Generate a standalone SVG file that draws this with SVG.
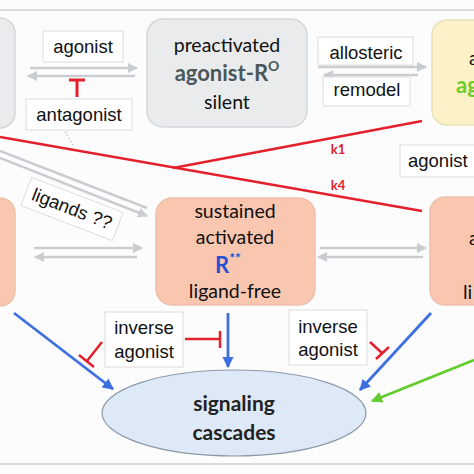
<svg xmlns="http://www.w3.org/2000/svg" width="474" height="474" viewBox="0 0 474 474">
<defs>
<style>
.gnode{fill:#e9ebec;stroke:#d3d7d9;stroke-width:1.5}
.snode{fill:#f9c6b0;stroke:#eec0ac;stroke-width:1.5}
.ynode{fill:#fcf2c8;stroke:#e8e0b8;stroke-width:1.5}
.lbl{fill:#ffffff;stroke:#dcdcdc;stroke-width:1}
.lt{font-family:"Liberation Sans",Arial,sans-serif;font-size:18.5px;fill:#111;text-anchor:middle}
.nt{font-family:Lato,"Open Sans",sans-serif;font-size:19.5px;fill:#111;text-anchor:middle}
.big{font-size:22px;font-weight:bold}
.garr{stroke:#c9cdd1;stroke-width:2.5;fill:none}
.red{stroke:#e3202c;stroke-width:2.5;fill:none}
.blue{stroke:#3d6fe0;stroke-width:2.8;fill:none}
.green{stroke:#63cc2e;stroke-width:2.8;fill:none}
.k{font-family:Lato,"Liberation Sans",sans-serif;font-size:13px;font-weight:bold;fill:#e3202c;text-anchor:middle}
</style>
<marker id="ga" viewBox="0 0 10 10" refX="9" refY="5" markerWidth="4" markerHeight="4" orient="auto"><path d="M0,0 L10,5 L0,10 z" fill="#c9cdd1"/></marker>
<marker id="ba" viewBox="0 0 10 10" refX="9" refY="5" markerWidth="4" markerHeight="4" orient="auto"><path d="M0,0 L10,5 L0,10 z" fill="#3d6fe0"/></marker>
<marker id="gra" viewBox="0 0 10 10" refX="9" refY="5" markerWidth="4" markerHeight="4" orient="auto"><path d="M0,0 L10,5 L0,10 z" fill="#63cc2e"/></marker>
</defs>
<rect x="0" y="0" width="474" height="474" fill="#fdfcfd"/>
<line x1="0" y1="10" x2="474" y2="10" stroke="#cfcfcf" stroke-width="1.5"/>
<line x1="0" y1="464" x2="474" y2="464" stroke="#cfcfcf" stroke-width="1.5"/>

<g id="connectors">
<line class="garr" x1="30" y1="68" x2="137" y2="68" marker-end="url(#ga)"/>
<line class="garr" x1="135" y1="76" x2="28" y2="76" marker-end="url(#ga)"/>
<line class="garr" x1="318" y1="67" x2="426" y2="67" marker-end="url(#ga)"/>
<line class="garr" x1="418" y1="75" x2="324" y2="75" marker-end="url(#ga)"/>
<line class="garr" x1="34" y1="248" x2="142" y2="248" marker-end="url(#ga)"/>
<line class="garr" x1="137" y1="257" x2="35" y2="257" marker-end="url(#ga)"/>
<line class="garr" x1="320" y1="248" x2="426" y2="248" marker-end="url(#ga)"/>
<line class="garr" x1="423" y1="257" x2="318" y2="257" marker-end="url(#ga)"/>
<line class="garr" x1="0" y1="151" x2="147" y2="208"/>
<line class="garr" x1="0" y1="158" x2="147" y2="216" marker-end="url(#ga)"/>
<line x1="65" y1="132" x2="73" y2="145" stroke="#b8bcc0" stroke-width="1.2" stroke-dasharray="1.5,2"/>
<path class="red" d="M0,137 L422,211"/>
<path class="red" d="M173,168 L422,121"/>
<path class="red" d="M77,97 L77,80 M69,80 L85,80" style="stroke-width:3"/>
<line class="blue" x1="14" y1="313" x2="113" y2="389" marker-end="url(#ba)"/>
<line class="blue" x1="228" y1="313" x2="228" y2="367" marker-end="url(#ba)"/>
<line class="blue" x1="431" y1="313" x2="360" y2="390" marker-end="url(#ba)"/>
<line class="green" x1="474" y1="360" x2="372" y2="401" marker-end="url(#gra)"/>
<path class="red" d="M102,342 L87,361 M79,355 L94,367"/>
<path class="red" d="M185,339 L220,339 M220,331 L220,348"/>
<path class="red" d="M370,342 L382,353 M376,359 L389,347"/>
</g>
<text class="k" x="338" y="154">k1</text>
<text class="k" x="338" y="190">k4</text>

<g id="node-left-top"><rect class="gnode" x="-30" y="18" width="45" height="110" rx="15"/></g>
<g id="label-agonist1"><rect class="lbl" x="43" y="31" width="80" height="31"/><text class="lt" x="83" y="53">agonist</text></g>
<g id="label-antagonist"><rect class="lbl" x="26" y="99" width="106" height="31"/><text class="lt" x="79" y="121">antagonist</text></g>
<g id="node-preactivated"><rect class="gnode" x="147" y="19" width="160" height="108" rx="16"/>
<text class="nt" x="227" y="52">preactivated</text>
<text class="nt big" x="227" y="81" style="fill:#4b5759">agonist-R<tspan style="font-size:14px" dy="-10">O</tspan></text>
<text class="nt" x="227" y="109">silent</text></g>
<g id="label-allosteric"><rect class="lbl" x="318" y="37" width="95" height="28"/><text class="lt" x="366" y="59">allosteric</text></g>
<g id="label-remodel"><rect class="lbl" x="323" y="77" width="87" height="29"/><text class="lt" x="367" y="96">remodel</text></g>
<g id="node-right-top"><rect class="ynode" x="432" y="20" width="60" height="105" rx="15"/>
<text class="nt" x="469" y="65" style="text-anchor:start">a</text>
<text class="nt big" x="456" y="93" style="text-anchor:start;fill:#6ccc2a">ag</text></g>
<g id="label-agonist2"><rect class="lbl" x="400" y="145" width="90" height="32"/><text class="lt" x="408" y="167" style="text-anchor:start">agonist</text></g>
<g id="label-ligands"><g transform="translate(72,209) rotate(21)"><rect class="lbl" x="-49" y="-15" width="98" height="30"/><text class="lt" x="0" y="6">ligands ??</text></g></g>
<g id="node-left-mid"><rect class="snode" x="-30" y="198" width="45" height="108" rx="15"/></g>
<g id="node-sustained"><rect class="snode" x="156" y="198" width="159" height="107" rx="16"/>
<text class="nt" x="235" y="218">sustained</text>
<text class="nt" x="235" y="244">activated</text>
<text class="nt big" x="228" y="273" style="fill:#2a50d0">R<tspan style="font-size:14px" dy="-10">**</tspan></text>
<text class="nt" x="235" y="298">ligand-free</text></g>
<g id="node-right-mid"><rect class="snode" x="430" y="197" width="62" height="108" rx="15"/>
<text class="nt" x="469" y="245" style="text-anchor:start">a</text>
<text class="nt" x="463" y="299" style="text-anchor:start">li</text></g>
<g id="label-inverse1"><rect class="lbl" x="105" y="312" width="78" height="55"/><text class="lt" x="144" y="334">inverse</text><text class="lt" x="144" y="358">agonist</text></g>
<g id="label-inverse2"><rect class="lbl" x="289" y="310" width="78" height="55"/><text class="lt" x="328" y="333">inverse</text><text class="lt" x="328" y="356">agonist</text></g>
<g id="node-signaling"><ellipse cx="234" cy="413" rx="132" ry="43" fill="#dde9f6" stroke="#8c9aa8" stroke-width="1.2"/>
<text class="nt" x="234" y="411" style="font-size:21px;font-weight:bold;fill:#222">signaling</text>
<text class="nt" x="234" y="440" style="font-size:21px;font-weight:bold;fill:#222">cascades</text></g>
</svg>
